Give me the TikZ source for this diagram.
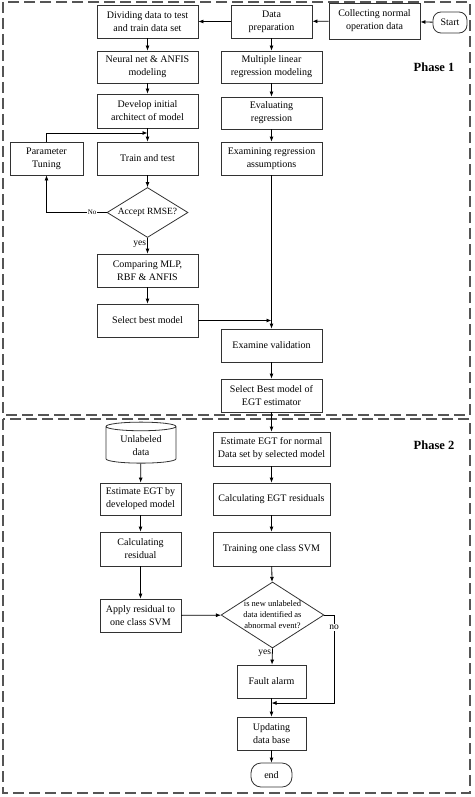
\documentclass[tikz,border=0pt]{standalone}
\usepackage{fontspec}
\setmainfont{Liberation Serif}
\usetikzlibrary{arrows.meta, shapes.geometric, calc}
\definecolor{frame}{RGB}{85, 85, 85}
\definecolor{edge}{RGB}{50, 50, 50}

\begin{document}
\begin{tikzpicture}[x=1pt, y=-1pt, thick,
    box/.style={draw=edge, line width=0.8pt, align=center, inner sep=1pt,
                font=\fontsize{10}{13}\selectfont},
    term/.style={box, rounded corners=8pt},
    decide/.style={draw=edge, line width=0.8pt, diamond, aspect=1.6, inner sep=0pt,
                   align=center},
    flow/.style={draw=black, line width=0.8pt, -{Latex[length=5pt, width=4pt]}},
    phasebox/.style={draw=frame, line width=1.6pt, dash pattern=on 11pt off 5pt},
    lbl/.style={font=\fontsize{9.5}{10}\selectfont, inner sep=1pt}]

  \useasboundingbox (0, 0) rectangle (474, 797);

  % the two phases
  \draw[phasebox] (3, 2) rectangle (470, 415);
  \draw[phasebox] (3, 419) rectangle (470, 793);
  \node[font=\bfseries\fontsize{12.5}{13}\selectfont] (ph1) at (434, 67) {Phase 1};
  \node[font=\bfseries\fontsize{12.5}{13}\selectfont] (ph2) at (434, 445) {Phase 2};

  % phase 1
  \node[term, minimum width=34pt, minimum height=21pt] (start) at (450, 22.5) {Start};
  \node[box, minimum width=91pt, minimum height=36pt] (collect) at (374.5, 21)
       {Collecting normal\\operation data};
  \node[box, minimum width=81pt, minimum height=33pt] (prep) at (271.5, 21.5)
       {Data\\preparation};
  \node[box, minimum width=101pt, minimum height=33pt] (divide) at (147.5, 21.5)
       {Dividing data to test\\and train data set};
  \node[box, minimum width=101pt, minimum height=32pt] (neural) at (147.5, 67)
       {Neural net \& ANFIS\\modeling};
  \node[box, minimum width=101pt, minimum height=32pt] (mlr) at (271.5, 67)
       {Multiple linear\\regression modeling};
  \node[box, minimum width=101pt, minimum height=34pt] (develop) at (147.5, 111)
       {Develop initial\\architect of model};
  \node[box, minimum width=101pt, minimum height=32pt] (evalreg) at (271.5, 113)
       {Evaluating\\regression};
  \node[box, minimum width=73pt, minimum height=33pt] (tuning) at (46.5, 158.5)
       {Parameter\\Tuning};
  \node[box, minimum width=101pt, minimum height=33pt] (train) at (147.5, 158.5)
       {Train and test};
  \node[box, minimum width=101pt, minimum height=33pt] (examine) at (271.5, 158.5)
       {Examining regression\\assumptions};
  \node[decide, minimum width=81pt, minimum height=50pt,
        font=\fontsize{9.5}{10}\selectfont] (rmse) at (147.5, 212.5) {Accept RMSE?};
  \node[box, minimum width=101pt, minimum height=33pt] (compare) at (147.5, 270.5)
       {Comparing MLP,\\RBF \& ANFIS};
  \node[box, minimum width=101pt, minimum height=33pt] (selbest) at (147.5, 320.5)
       {Select best model};
  \node[box, minimum width=101pt, minimum height=33pt] (valid) at (271.5, 345.5)
       {Examine validation};
  \node[box, minimum width=101pt, minimum height=33pt] (egtbest) at (271.5, 395.5)
       {Select Best model of\\EGT estimator};
  \coordinate (fb) at (147.5, 133);
  \coordinate (join) at (271.5, 320.5);

  \draw[flow] (start) -- (collect);
  \draw[flow] (collect) -- (prep);
  \draw[flow] (prep) -- (divide);
  \draw[flow] (divide) -- (neural);
  \draw[flow] (neural) -- (develop);
  \draw[flow] (develop) -- (train);
  \draw[flow] (prep) -- (mlr);
  \draw[flow] (mlr) -- (evalreg);
  \draw[flow] (evalreg) -- (examine);
  \draw[flow] (tuning.north) |- (fb);
  \draw[flow] (train) -- (rmse);
  \draw[flow] (rmse.west) -| node[lbl, pos=0.12, fill=white, font=\fontsize{7}{8}\selectfont] {No}
       (tuning.south);
  \draw[flow] (rmse.south) -- node[lbl, left, pos=0.4] {yes} (compare);
  \draw[flow] (compare) -- (selbest);
  \draw[flow] (selbest) -- (join);
  \draw[flow] (examine) -- (valid);
  \draw[flow] (valid) -- (egtbest);

  % phase 2
  \node[draw=edge, line width=0.8pt, cylinder, shape border rotate=90, aspect=0.2,
        minimum width=70pt, minimum height=41pt, align=center, inner sep=1pt,
        font=\fontsize{10}{13}\selectfont] (unlab) at (141, 445.5) {Unlabeled\\data};
  \node[box, minimum width=117pt, minimum height=34pt] (estnorm) at (271.5, 449)
       {Estimate EGT for normal\\Data set by selected model};
  \node[box, minimum width=81pt, minimum height=32pt] (estdev) at (140.5, 499)
       {Estimate EGT by\\developed model};
  \node[box, minimum width=117pt, minimum height=32pt] (calcegt) at (271.5, 499)
       {Calculating EGT residuals};
  \node[box, minimum width=81pt, minimum height=34pt] (calcres) at (140.5, 549)
       {Calculating\\residual};
  \node[box, minimum width=117pt, minimum height=34pt] (trainsvm) at (271.5, 549)
       {Training one class SVM};
  \node[box, minimum width=81pt, minimum height=33pt] (apply) at (140.5, 615.5)
       {Apply residual to\\one class SVM};
  \node[decide, minimum width=101pt, minimum height=66pt,
        font=\fontsize{8.5}{11}\selectfont] (abn) at (272.5, 615)
       {is new unlabeled\\data identified as\\abnormal event?};
  \node[box, minimum width=69pt, minimum height=33pt] (fault) at (271.5, 681.5)
       {Fault alarm};
  \node[box, minimum width=69pt, minimum height=33pt] (update) at (271.5, 733.5)
       {Updating\\data base};
  \node[term, minimum width=41pt, minimum height=24pt, rounded corners=10pt] (end)
       at (271.5, 775) {end};
  \coordinate (noturn) at (334, 615);
  \coordinate (merge) at (271.5, 703);

  \draw[flow] (egtbest) -- (estnorm);
  \draw[flow] (unlab) -- (estdev);
  \draw[flow] (estdev) -- (calcres);
  \draw[flow] (calcres) -- (apply);
  \draw[flow] (estnorm) -- (calcegt);
  \draw[flow] (calcegt) -- (trainsvm);
  \draw[flow] (trainsvm) -- (abn);
  \draw[flow] (apply) -- (abn);
  \draw[flow] (abn.south) -- node[lbl, left, pos=0.3] {yes} (fault);
  \draw[flow] (abn.east) -- (noturn) |- node[lbl, pos=0.07, fill=white] {no} (merge);
  \draw[flow] (fault) -- (update);
  \draw[flow] (update) -- (end);

\end{tikzpicture}
\end{document}
